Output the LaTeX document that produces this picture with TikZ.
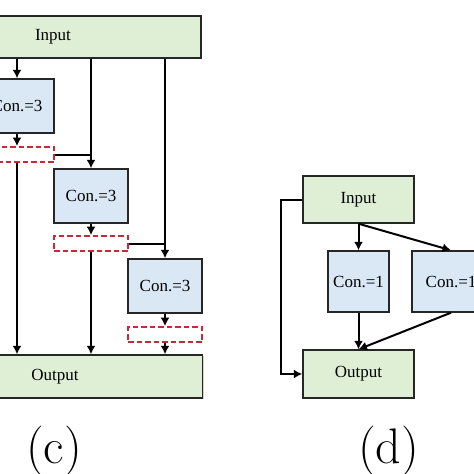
\documentclass[tikz,border=0pt]{standalone}
\usepackage{fontspec}
\usepackage{tikz}
\usetikzlibrary{arrows.meta, shadows}
\newfontfamily\boxfont{Liberation Serif}
\definecolor{ingreen}{HTML}{DEEFD6}
\definecolor{conblue}{HTML}{DAE7F5}
\definecolor{dashred}{HTML}{C52A3A}
\tikzset{
  blk/.style={draw=black!85,line width=1.4pt,inner sep=0pt,font=\boxfont\fontsize{17}{17}\selectfont,
    drop shadow={shadow xshift=1.2pt,shadow yshift=-1.2pt,opacity=.35}},
  iobox/.style={blk,fill=ingreen},
  conbox/.style={blk,fill=conblue,minimum width=74pt,minimum height=54pt},
  dashbox/.style={draw=dashred,line width=1.8pt,dash pattern=on 5.5pt off 3pt,minimum width=74pt,minimum height=15pt,inner sep=0pt},
  lbl/.style={anchor=base,font=\fontsize{50}{50}\selectfont}
}
\begin{document}
\begin{tikzpicture}[x=1pt,y=-1pt,line width=2pt,>={Latex[length=8.5pt,width=9pt]}]
\fill[white] (0,0) rectangle (474,474);
\useasboundingbox (0,0) rectangle (474,474);
\clip (0,0) rectangle (474,474);
% (c)
\draw node [iobox,minimum width=296pt,minimum height=42pt] (In) at (53,37) {Input};
\draw node [conbox] (B1) at (17,106) {Con.=3};
\draw node [dashbox] (D1) at (17,154.5) {};
\draw node [conbox] (B2) at (91,196) {Con.=3};
\draw node [dashbox] (D2) at (91,243.5) {};
\draw node [conbox] (B3) at (165,286) {Con.=3};
\draw node [dashbox] (D3) at (165,334.5) {};
\draw node [iobox,minimum width=295pt,minimum height=43pt] (Out) at (55,376.5) {Output};
\draw [->] (B1 |- In.south) -- (B1.north);
\draw [->] (B1.south) -- (D1.north);
\draw [->] (D1.south) -- (D1 |- Out.north);
\draw [->] (B2 |- In.south) -- (B2.north);
\draw (D1.east) -- (D1.east -| B2);
\draw [->] (B2.south) -- (D2.north);
\draw [->] (D2.south) -- (D2 |- Out.north);
\draw [->] (B3 |- In.south) -- (B3.north);
\draw (D2.east) -- (D2.east -| B3);
\draw [->] (B3.south) -- (D3.north);
\draw [->] (D3.south) -- (D3 |- Out.north);
% (d)
\draw node [iobox,minimum width=111pt,minimum height=47pt] (In2) at (358.5,199.5) {Input};
\draw node [conbox,minimum width=61pt,minimum height=61pt] (C1) at (358.5,281.5) {Con.=1};
\draw node [conbox,minimum width=78pt,minimum height=61pt] (C2) at (451,281.5) {Con.=1};
\draw node [iobox,minimum width=111pt,minimum height=48pt] (Out2) at (358.5,374) {Output};
\draw [->] (In2) -- (C1);
\draw [->] (In2.south) -- (C2.north);
\draw [->] (C1) -- (Out2);
\draw [->] (C2.south) -- (Out2.north);
\draw [->] (In2.west) -- ++(-21,0) |- (Out2.west);
% labels
\node [lbl] (Lc) at (54,463) {(c)};
\node [lbl] (Ld) at (388.5,463) {(d)};
\end{tikzpicture}
\end{document}
